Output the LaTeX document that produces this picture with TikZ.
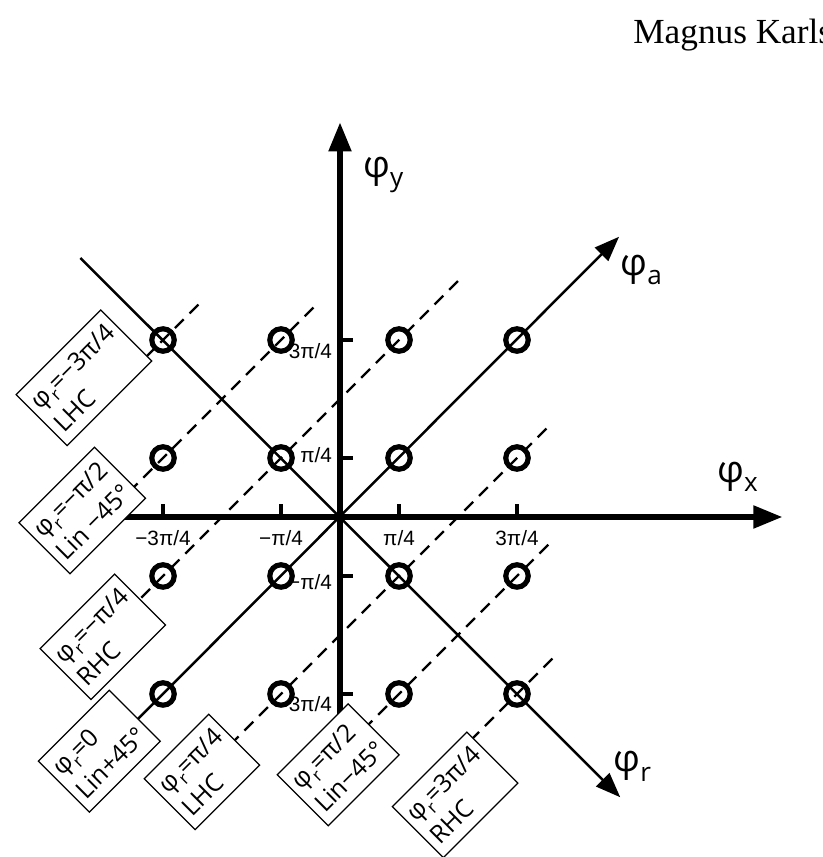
\documentclass[tikz,border=0pt]{standalone}
\usepackage{fontspec}
\usetikzlibrary{arrows.meta}
\newfontfamily\boxfont{Open Sans}
\newfontfamily\tickfont{Liberation Sans}
\newfontfamily\namefont{Liberation Serif}
\newcommand{\lowsub}[1]{\raisebox{-0.25em}{\scalebox{0.7}{#1}}}
\tikzset{
	axis/.style = {line width = 2.7pt, -{Triangle[length=14pt, width=10.5pt]}},
	diag/.style = {line width = 1.2pt, -{Triangle[length=12pt, width=9pt]}},
	guide/.style = {line width = 1.1pt, dash pattern = on 6pt off 4pt},
	tickmark/.style = {line width = 2.2pt},
	ticklab/.style = {inner sep = 0pt, font = \tickfont\fontsize{10}{12}\selectfont},
	ring/.style = {circle, draw, line width = 2.5pt, minimum size = 0.38cm, inner sep = 0pt},
	polbox/.style = {draw, fill = white, line width = 0.6pt, rotate = 45, align = left, inner xsep = 3pt, inner ysep = 5pt, font = \boxfont\fontsize{12}{16}\selectfont},
	axlab/.style = {inner sep = 0pt, font = \boxfont\fontsize{18}{21}\selectfont}
}
\begin{document}
\begin{tikzpicture}
\useasboundingbox (-5.763,-5.763) rectangle (8.186,8.763);
\clip (-5.763,-5.763) rectangle (8.186,8.763);
\coordinate (xa) at (-4.5,0);
\coordinate (xb) at (7.5,0);
\coordinate (ya) at (0,-4.5);
\coordinate (yb) at (0,6.69);
\coordinate (aa) at (-4,-4);
\coordinate (ab) at (4.73,4.75);
\coordinate (ra) at (-4.4,4.39);
\coordinate (rb) at (4.75,-4.75);
\draw[axis] (xa) -- (xb);
\draw[axis] (ya) -- (yb);
\draw[diag] (aa) -- (ab);
\draw[diag] (ra) -- (rb);
\foreach \k/\ax/\ay/\bx/\by in {1/-2.4/3.6/-4/2, 2/-0.45/3.55/-4.13/-0.13, 3/2/4/-4/-2, 5/3.5/1.5/-2.3/-4.3, 6/3.53/-0.47/-0.115/-4.115, 7/3.6/-2.4/1.62/-4.38}
{
	\coordinate (gt\k) at (\ax,\ay);
	\coordinate (gb\k) at (\bx,\by);
	\draw[guide] (gt\k) -- (gb\k);
}
\foreach \v/\lab/\yy in {-3/{−3π/4}/-3.17, -1/{−π/4}/-1.10, 1/{π/4}/1.045, 3/{3π/4}/2.82}
{
	\draw[tickmark] (\v,0) -- (\v,0.22);
	\draw[tickmark] (0,\v) -- (0.22,\v);
	\node[ticklab, anchor = north] (xt\v) at (\v,-0.22) {\lab};
	\node[ticklab, anchor = east] (yt\v) at (-0.13,\yy) {\lab};
}
\foreach \x in {-3,-1,1,3}
{
	\foreach \y in {-3,-1,1,3}
	{
		\node[ring] (c\x\y) at (\x,\y) {};
	}
}
\foreach \n/\bx/\by/\txt in {1/-4.34/2.36/{φ\lowsub{r}=−3π/4\\LHC}, 2/-4.37/0.11/{φ\lowsub{r}=−π/2\\Lin −45°}, 3/-4.02/-2.03/{φ\lowsub{r}=−π/4\\RHC}, 4/-4.08/-3.97/{φ\lowsub{r}=0\\Lin+45°}, 5/-2.34/-4.32/{φ\lowsub{r}=π/4\\LHC}, 6/-0.03/-4.20/{φ\lowsub{r}=π/2\\Lin−45°}, 7/1.95/-4.71/{φ\lowsub{r}=3π/4\\RHC}}
{
	\node[polbox] (pol\n) at (\bx,\by) {\txt};
}
\node[axlab, anchor = base west] (phy) at (0.39,5.76) {φ\lowsub{y}};
\node[axlab, anchor = base west] (phx) at (6.39,0.59) {φ\lowsub{x}};
\node[axlab, anchor = base west] (pha) at (4.75,4.10) {φ\lowsub{a}};
\node[axlab, anchor = base west] (phr) at (4.63,-4.32) {φ\lowsub{r}};
\node[inner sep = 0pt, anchor = base west, font = \namefont\fontsize{17}{20}\selectfont] (author) at (4.966,8.03) {Magnus Karls};
\end{tikzpicture}
\end{document}
